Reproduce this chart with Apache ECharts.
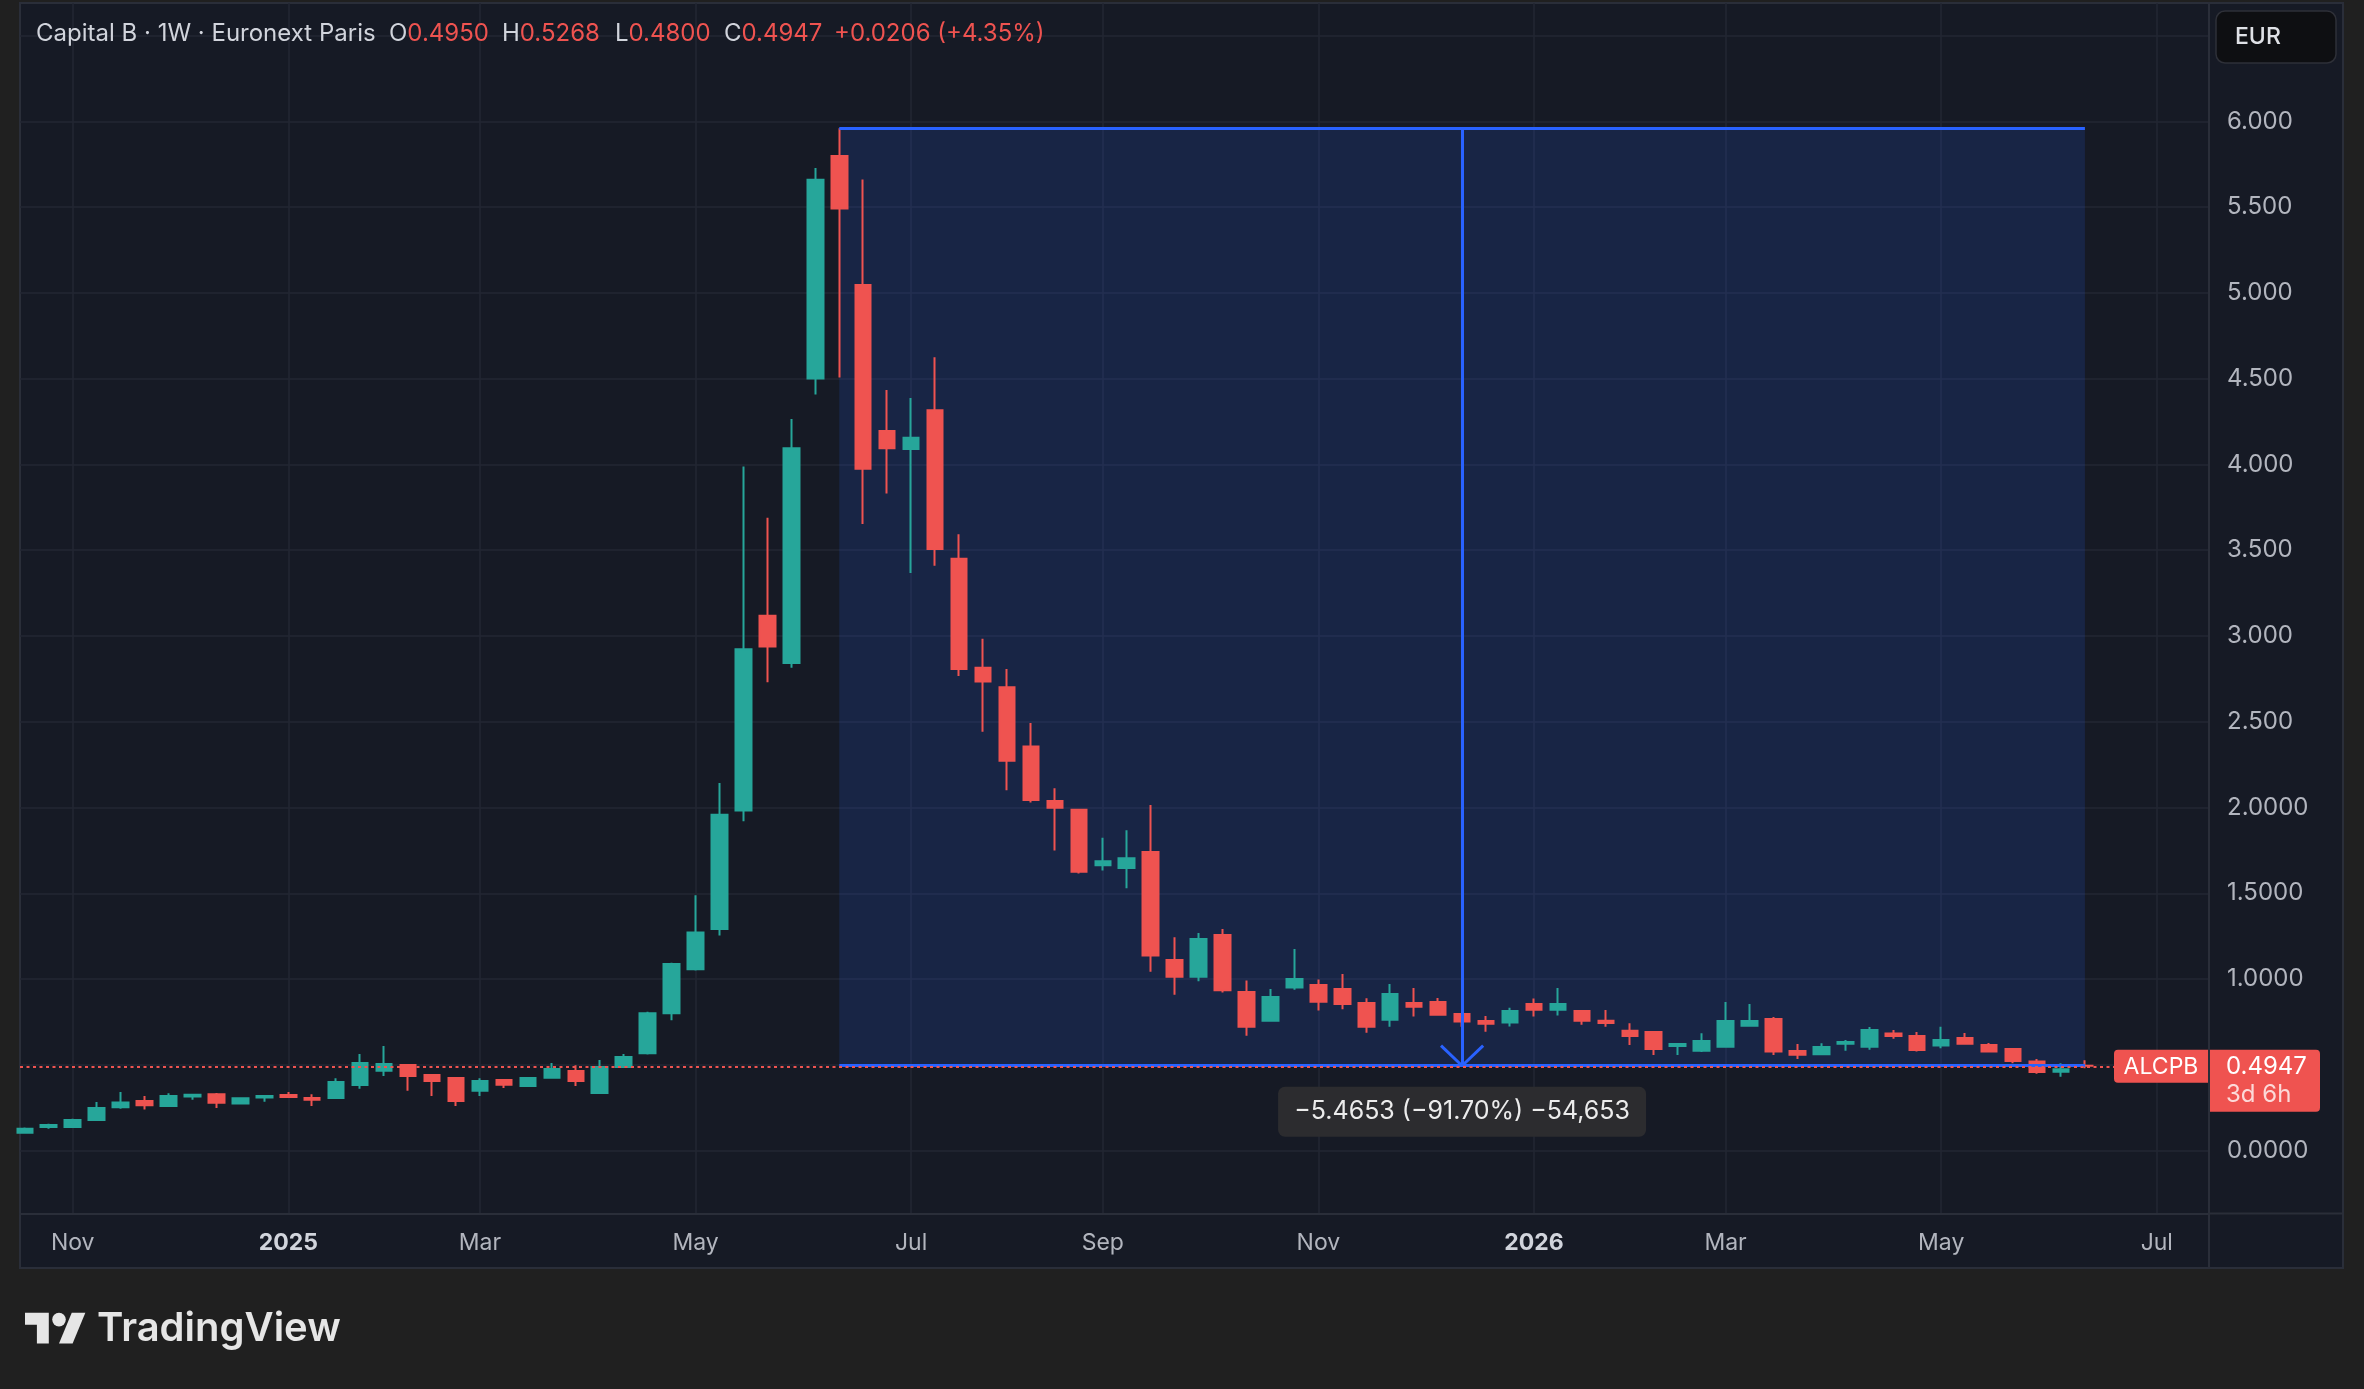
<!DOCTYPE html>
<html>
<head>
<meta charset="utf-8">
<script src="https://cdn.jsdelivr.net/npm/echarts@6/dist/echarts.min.js"></script>
<style>
  html, body { margin: 0; padding: 0; background: #202020; }
  #chart { width: 2364px; height: 1389px; }
</style>
</head>
<body>
<div id="chart"></div>
<script>
// weekly bars, first week starts 2024-10-21 -> [open, close, low, high]
const symbol = 'ALCPB'
const weeks = [
  [0.104, 0.128, 0.101, 0.134], [0.138, 0.149, 0.128, 0.157], [0.138, 0.178, 0.132, 0.186],
  [0.178, 0.248, 0.175, 0.283], [0.252, 0.281, 0.244, 0.342], [0.289, 0.264, 0.239, 0.318],
  [0.260, 0.318, 0.256, 0.334], [0.316, 0.326, 0.297, 0.330], [0.328, 0.279, 0.248, 0.336],
  [0.274, 0.305, 0.270, 0.307], [0.309, 0.318, 0.285, 0.320], [0.324, 0.312, 0.307, 0.342],
  [0.307, 0.297, 0.260, 0.328], [0.307, 0.400, 0.303, 0.421], [0.382, 0.511, 0.361, 0.563],
  [0.466, 0.505, 0.435, 0.610], [0.499, 0.435, 0.349, 0.505], [0.441, 0.406, 0.318, 0.445],
  [0.423, 0.289, 0.260, 0.428], [0.349, 0.406, 0.318, 0.421], [0.412, 0.384, 0.365, 0.415],
  [0.377, 0.423, 0.371, 0.429], [0.425, 0.476, 0.421, 0.511], [0.464, 0.406, 0.377, 0.497],
  [0.336, 0.487, 0.332, 0.528], [0.487, 0.546, 0.483, 0.563], [0.567, 0.800, 0.560, 0.810],
  [0.800, 1.087, 0.760, 1.095], [1.057, 1.272, 1.050, 1.488], [1.291, 1.957, 1.254, 2.143],
  [1.983, 2.923, 1.920, 3.987], [3.117, 2.938, 2.730, 3.689], [2.842, 4.094, 2.815, 4.265],
  [4.500, 5.659, 4.407, 5.727], [5.797, 5.492, 4.507, 5.960], [5.046, 3.975, 3.652, 5.660],
  [4.195, 4.094, 3.830, 4.433], [4.090, 4.155, 3.367, 4.387], [4.316, 3.507, 3.409, 4.625],
  [3.450, 2.808, 2.767, 3.593], [2.814, 2.734, 2.442, 2.983], [2.701, 2.273, 2.100, 2.808],
  [2.356, 2.044, 2.029, 2.493], [2.038, 1.999, 1.749, 2.112], [1.987, 1.625, 1.615, 1.990],
  [1.663, 1.687, 1.633, 1.823], [1.648, 1.704, 1.529, 1.868], [1.741, 1.137, 1.042, 2.014],
  [1.111, 1.014, 0.909, 1.243], [1.014, 1.233, 0.987, 1.268], [1.257, 0.934, 0.921, 1.292],
  [0.924, 0.722, 0.670, 0.991], [0.757, 0.895, 0.752, 0.942], [0.950, 1.000, 0.938, 1.175],
  [0.965, 0.868, 0.816, 0.998], [0.942, 0.855, 0.824, 1.029], [0.860, 0.722, 0.687, 0.888],
  [0.763, 0.913, 0.722, 0.971], [0.860, 0.839, 0.781, 0.948], [0.866, 0.792, 0.790, 0.890],
  [0.796, 0.752, 0.722, 0.800], [0.755, 0.740, 0.693, 0.785], [0.746, 0.814, 0.724, 0.833],
  [0.855, 0.821, 0.781, 0.886], [0.821, 0.855, 0.787, 0.948], [0.814, 0.757, 0.734, 0.820],
  [0.757, 0.744, 0.722, 0.820], [0.699, 0.668, 0.616, 0.742], [0.691, 0.592, 0.557, 0.695],
  [0.610, 0.621, 0.557, 0.623], [0.582, 0.639, 0.575, 0.684], [0.606, 0.755, 0.600, 0.866],
  [0.728, 0.755, 0.725, 0.855], [0.767, 0.577, 0.557, 0.779], [0.581, 0.559, 0.534, 0.621],
  [0.561, 0.604, 0.558, 0.625], [0.623, 0.633, 0.582, 0.645], [0.606, 0.703, 0.588, 0.720],
  [0.682, 0.668, 0.652, 0.703], [0.668, 0.586, 0.577, 0.691], [0.612, 0.645, 0.596, 0.722],
  [0.656, 0.623, 0.620, 0.686], [0.616, 0.577, 0.574, 0.627], [0.592, 0.522, 0.509, 0.598],
  [0.520, 0.458, 0.448, 0.534], [0.460, 0.4741, 0.431, 0.509], [0.4950, 0.4947, 0.4800, 0.5268]
]

// time axis labels sit on the first weekly bar of each month
const tickIndex = [2, 11, 19, 28, 37, 45, 54, 63, 71, 80, 89]
const tickLabels = ['Nov', '2025', 'Mar', 'May', 'Jul', 'Sep', 'Nov', '2026', 'Mar', 'May', 'Jul']

const priceLabels = [0, 1, 1.5, 2, 2.5, 3, 3.5, 4, 4.5, 5, 5.5, 6]
const priceGrid = [0, 0.5, 1, 1.5, 2, 2.5, 3, 3.5, 4, 4.5, 5, 5.5, 6, 6.5]

const lastPrice = 0.4947
const rangeHigh = 5.96
const rangeStart = 34
const rangeEnd = 86

const UP = '#26a69a'
const DOWN = '#ef5350'
const BLUE = '#2962ff'
const FONT = 'Inter, Roboto, sans-serif'

const chart = echarts.init(document.getElementById('chart'))

const initOption = () => {
  let mid = (rangeStart + rangeEnd) / 2
  let option = {
    backgroundColor: '#202020',
    animation: false,
    grid: { left: 20, right: 155, top: 3, bottom: 175.5 },
    xAxis: {
      type: 'value',
      min: -0.2,
      max: 91.18,
      axisLine: { show: true, onZero: false, lineStyle: { color: '#2a2e39', width: 2 } },
      axisTick: { show: false, customValues: tickIndex },
      axisLabel: {
        customValues: tickIndex,
        margin: 18,
        color: '#b2b5be',
        fontSize: 23,
        fontFamily: FONT,
        formatter: v => {
          let s = tickLabels[tickIndex.indexOf(v)]
          return /^\d{4}$/.test(s) ? '{y|' + s + '}' : s
        },
        rich: { y: { fontWeight: 700, color: '#d1d4dc', fontSize: 23, fontFamily: FONT } }
      },
      splitLine: { show: true, lineStyle: { color: '#232733', width: 1.5 } }
    },
    yAxis: {
      type: 'value',
      position: 'right',
      min: -0.3667,
      max: 6.6895,
      axisLine: { show: true, onZero: false, lineStyle: { color: '#2a2e39', width: 2 } },
      axisTick: { show: false, customValues: priceGrid },
      axisLabel: {
        customValues: priceLabels,
        margin: 18,
        padding: [3, 0, 0, 0],
        color: '#b2b5be',
        fontSize: 24,
        fontFamily: FONT,
        formatter: v => v > 2 ? v.toFixed(3) : v.toFixed(4)
      },
      splitLine: { show: true, lineStyle: { color: '#232733', width: 1.5 } }
    },
    series: [
      {
        type: 'candlestick',
        name: symbol,
        data: weeks.map((w, i) => [i, w[0], w[1], w[2], w[3]]),
        barWidth: 16,
        itemStyle: { color: UP, color0: DOWN, borderColor: UP, borderColor0: DOWN, borderWidth: 2 },
        markArea: {
          silent: true,
          itemStyle: { color: 'rgba(41,98,255,0.15)' },
          data: [[{ coord: [rangeStart, rangeHigh] }, { coord: [rangeEnd, lastPrice] }]]
        },
        markLine: {
          silent: true,
          symbol: ['none', 'none'],
          label: { show: false },
          lineStyle: { color: BLUE, width: 3, type: 'solid' },
          data: [
            [{ coord: [rangeStart, rangeHigh] }, { coord: [rangeEnd, rangeHigh] }],
            [{ coord: [rangeStart, lastPrice] }, { coord: [rangeEnd, lastPrice] }],
            [{ coord: [mid, rangeHigh] }, { coord: [mid, lastPrice] }],
            [{ coord: [mid - 0.88, lastPrice + 0.117] }, { coord: [mid, lastPrice] }],
            [{ coord: [mid + 0.88, lastPrice + 0.117] }, { coord: [mid, lastPrice] }]
          ]
        }
      },
      {
        type: 'line',
        data: [],
        markLine: {
          silent: true,
          z: 6,
          symbol: ['none', 'none'],
          label: { show: false },
          lineStyle: { color: DOWN, width: 2, type: [3, 3.5] },
          data: [{ yAxis: lastPrice }]
        }
      }
    ]
  }
  return option
}

chart.setOption(initOption())

const p = chart.convertToPixel({ gridIndex: 0 }, [(rangeStart + rangeEnd) / 2, lastPrice])
const ax = p[0], ay = p[1]

const hdr = (x, k, v) => ({
  type: 'text', x: x, y: 34, z: 100,
  style: {
    text: '{k|' + k + '}{v|' + v + '}',
    verticalAlign: 'middle',
    rich: {
      k: { fill: '#d1d4dc', fontSize: 24, fontFamily: FONT },
      v: { fill: DOWN, fontSize: 24, fontFamily: FONT }
    }
  }
})

// TradingView mark, drawn from its 36x28 outline
const tvMark = (x, y, s) => [
  { type: 'polygon', z: 100, shape: { points: [[14, 22], [7, 22], [7, 11], [0, 11], [0, 4], [14, 4]].map(q => [x + q[0] * s, y + q[1] * s]) }, style: { fill: '#e6e6e6' } },
  { type: 'polygon', z: 100, shape: { points: [[28, 22], [20, 22], [27.5, 4], [35.5, 4]].map(q => [x + q[0] * s, y + q[1] * s]) }, style: { fill: '#e6e6e6' } },
  { type: 'circle', z: 100, shape: { cx: x + 20 * s, cy: y + 8 * s, r: 4 * s }, style: { fill: '#e6e6e6' } }
]

chart.setOption({
  graphic: [
    { type: 'rect', z: -10, shape: { x: 20, y: 3, width: 2323, height: 1265 }, style: { fill: '#161a25', stroke: '#2a2e39', lineWidth: 2 } },
    { type: 'line', z: 10, shape: { x1: 2209, y1: 1213.5, x2: 2343, y2: 1213.5 }, style: { stroke: '#2a2e39', lineWidth: 2 } },
    { type: 'line', z: 10, shape: { x1: 2209, y1: 1213.5, x2: 2209, y2: 1268 }, style: { stroke: '#2a2e39', lineWidth: 2 } },
    // legend line
    { type: 'text', x: 36, y: 34, z: 100, style: { text: 'Capital B · 1W · Euronext Paris', fill: '#d1d4dc', fontSize: 24, fontFamily: FONT, verticalAlign: 'middle' } },
    hdr(389, 'O', '0.4950'),
    hdr(502, 'H', '0.5268'),
    hdr(615, 'L', '0.4800'),
    hdr(724, 'C', '0.4947'),
    { type: 'text', x: 834, y: 34, z: 100, style: { text: '+0.0206 (+4.35%)', fill: DOWN, fontSize: 24, fontFamily: FONT, verticalAlign: 'middle' } },
    // currency button
    { type: 'rect', z: 100, shape: { x: 2216, y: 11, width: 120, height: 52, r: 9 }, style: { fill: '#0e0f12', stroke: '#2e3038', lineWidth: 1.5 } },
    { type: 'text', x: 2235, y: 37, z: 101, style: { text: 'EUR', fill: '#dfe1e6', fontSize: 23, fontFamily: FONT, fontWeight: 500, verticalAlign: 'middle' } },
    // range label
    { type: 'rect', z: 100, shape: { x: ax - 184, y: ay + 21, width: 368, height: 50, r: 7 }, style: { fill: '#2c2c2f' } },
    { type: 'text', x: ax, y: ay + 46, z: 101, style: { text: '\u22125.4653 (\u221291.70%) \u221254,653', fill: '#ececec', fontSize: 25, fontFamily: FONT, align: 'center', verticalAlign: 'middle' } },
    // last price tags
    { type: 'rect', z: 100, shape: { x: 2114, y: ay - 16, width: 94, height: 33, r: [4, 0, 0, 4] }, style: { fill: DOWN } },
    { type: 'text', x: 2161, y: ay + 1.5, z: 101, style: { text: symbol, fill: '#ffffff', fontSize: 23, fontFamily: FONT, align: 'center', verticalAlign: 'middle' } },
    { type: 'rect', z: 100, shape: { x: 2210, y: ay - 16, width: 110, height: 62, r: [0, 4, 4, 0] }, style: { fill: DOWN } },
    { type: 'text', x: 2226, y: ay + 1.5, z: 101, style: { text: lastPrice.toFixed(4), fill: '#ffffff', fontSize: 24, fontFamily: FONT, verticalAlign: 'middle' } },
    { type: 'text', x: 2226, y: ay + 29, z: 101, style: { text: '3d 6h', fill: 'rgba(255,255,255,0.78)', fontSize: 24, fontFamily: FONT, verticalAlign: 'middle' } },
    ...tvMark(25, 1306, 1.7),
    { type: 'text', x: 97, y: 1329, z: 100, style: { text: 'TradingView', fill: '#e6e6e6', fontSize: 40, fontWeight: 600, fontFamily: FONT, verticalAlign: 'middle' } }
  ]
})
</script>
</body>
</html>
